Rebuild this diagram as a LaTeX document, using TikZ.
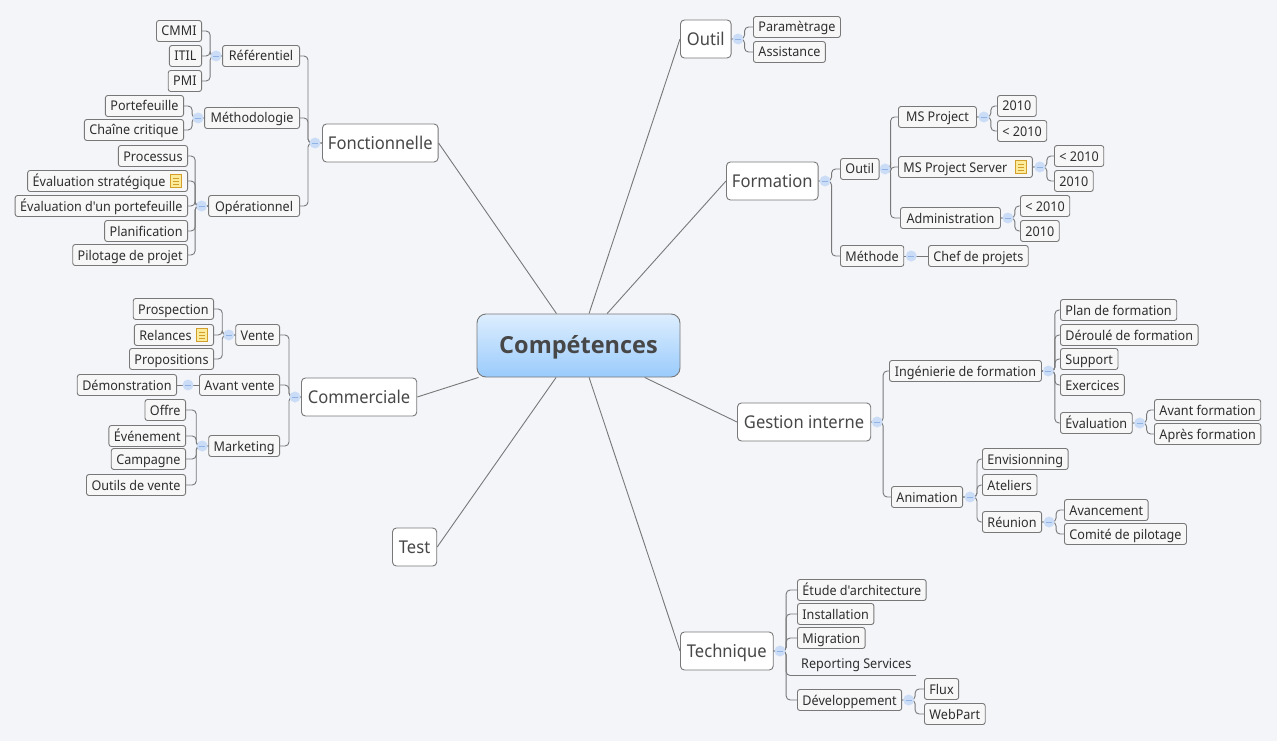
\documentclass[tikz,border=0pt]{standalone}
\usepackage{fontspec}
\defaultfontfeatures[\rmfamily]{}
\setmainfont{Noto Sans}[FakeStretch=0.94]
\newfontfamily\rootfont{Open Sans}
\usetikzlibrary{calc,positioning}
\definecolor{paper}{HTML}{F3F5F9}
\definecolor{edge}{HTML}{787878}
\definecolor{ink}{HTML}{2E2E2E}
\definecolor{foldblue}{HTML}{CBDDF6}
\definecolor{folddash}{HTML}{92B4E4}
\definecolor{memoface}{HTML}{FCEB9A}
\definecolor{memoline}{HTML}{D2A02A}
\definecolor{roottop}{HTML}{DDEEFE}
\definecolor{rootbot}{HTML}{9ACBFC}
\tikzset{
  root/.style={draw=edge,line width=.9pt,rounded corners=9pt,top color=roottop,bottom color=rootbot,text=black!72,font=\rootfont\fontsize{23.5}{28}\selectfont\bfseries,minimum width=203pt,minimum height=63pt,inner sep=0pt,text height=20pt,text depth=4pt},
  main/.style={draw=edge,line width=.9pt,fill=white,rounded corners=4pt,text=black!72,font=\fontsize{17.6}{20}\selectfont,minimum height=38pt,inner xsep=6.5pt,inner ysep=0pt,text height=13pt,text depth=0pt},
  leaf/.style={draw=edge,line width=.9pt,fill=black!3,rounded corners=2.5pt,text=ink,font=\fontsize{13.4}{15}\selectfont,minimum height=21pt,inner xsep=5pt,inner ysep=0pt,text height=10pt,text depth=0pt},
  bare/.style={text=ink,font=\fontsize{13.4}{15}\selectfont,minimum height=21pt,inner xsep=4pt,inner ysep=0pt,text height=10pt,text depth=0pt},
  spoke/.style={draw=edge,line width=.9pt},
  twig/.style={draw=edge,line width=.9pt,rounded corners=4pt},
  fold/.style={circle,fill=foldblue,minimum size=11pt,inner sep=0pt,path picture={\draw[folddash,line width=.8pt] ([xshift=-3pt]path picture bounding box.center) -- ([xshift=3pt]path picture bounding box.center);}},
  memo/.style={draw=memoline,line width=.7pt,fill=memoface,minimum width=11pt,minimum height=13pt,inner sep=0pt,path picture={\foreach \row in {-3,0,3} \draw[memoline,line width=.7pt] ([xshift=-3pt,yshift=\row pt]path picture bounding box.center) -- ([xshift=3pt,yshift=\row pt]path picture bounding box.center);}}
}
\newcommand{\twigsl}[3]{\foreach \kid in {#3} \draw[twig] (#1.west) -- ++(-#2,0) |- (\kid.east);
  \node[fold] (#1fold) at ($(#1.west)+(-#2*0.5,0)$) {};}
\newcommand{\twigsr}[3]{\foreach \kid in {#3} \draw[twig] (#1.east) -- ++(#2,0) |- (\kid.west);
  \node[fold] (#1fold) at ($(#1.east)+(#2*0.5,0)$) {};}
\begin{document}
\begin{tikzpicture}[x=1pt,y=-1pt]
\useasboundingbox[fill=paper] (0,0) rectangle (1277,741);
\node[root] (comp) at (578.5,345.5) {Compétences};
% branches
\node[main,anchor=west,inner xsep=5.5pt] (fonc) at (322,143) {Fonctionnelle};
\node[main,anchor=west] (comm) at (301,397) {Commerciale};
\node[main,anchor=west] (test) at (392,547) {Test};
\node[main,anchor=west] (outil) at (680,39) {Outil};
\node[main,anchor=west,inner xsep=5.5pt] (form) at (726,181) {Formation};
\node[main,anchor=west] (gest) at (737,422) {Gestion interne};
\node[main,anchor=west] (tech) at (680,651) {Technique};
\foreach \side in {fonc,comm,test} \draw[spoke] (comp) -- (\side.east);
\foreach \side in {outil,form,gest,tech} \draw[spoke] (comp) -- (\side.west);
% fonctionnelle
\node[leaf,anchor=east,minimum width=77pt] (refe) at (300,56) {Référentiel};
\node[leaf,anchor=east,minimum width=95pt] (meth) at (300,118) {Méthodologie};
\node[leaf,anchor=east,minimum width=91pt] (oper) at (300,206) {Opérationnel};
\node[leaf,anchor=east] (cmmi) at (202,31) {CMMI};
\node[leaf,anchor=east] (itil) at (202,56) {ITIL};
\node[leaf,anchor=east] (pmi) at (202,81) {PMI};
\node[leaf,anchor=east] (port) at (184,106) {Portefeuille};
\node[leaf,anchor=east] (chai) at (184,130) {Chaîne critique};
\node[leaf,anchor=east] (proc) at (188,156) {Processus};
\node[leaf,anchor=east] (eval) at (188,181) {Évaluation stratégique\kern17pt};
\node[memo,left=6pt of eval.east,anchor=east] (evalmemo) {};
\node[leaf,anchor=east] (evap) at (188,206) {Évaluation d'un portefeuille};
\node[leaf,anchor=east] (plan) at (188,231) {Planification};
\node[leaf,anchor=east] (pilo) at (188,255) {Pilotage de projet};
\twigsl{fonc}{14}{refe,meth,oper}
\twigsl{refe}{12}{cmmi,itil,pmi}
\twigsl{meth}{12}{port,chai}
\twigsl{oper}{13}{proc,eval,evap,plan,pilo}
% commerciale
\node[leaf,anchor=east] (vent) at (280,335) {Vente};
\node[leaf,anchor=east] (avan) at (280,385) {Avant vente};
\node[leaf,anchor=east] (mark) at (280,446) {Marketing};
\node[leaf,anchor=east] (pros) at (214,309) {Prospection};
\node[leaf,anchor=east] (rela) at (214,335) {Relances\kern17pt};
\node[memo,left=6pt of rela.east,anchor=east] (relamemo) {};
\node[leaf,anchor=east] (prop) at (214,359) {Propositions};
\node[leaf,anchor=east] (demo) at (177,385) {Démonstration};
\node[leaf,anchor=east] (offr) at (186,410) {Offre};
\node[leaf,anchor=east] (even) at (186,436) {Événement};
\node[leaf,anchor=east] (camp) at (186,459) {Campagne};
\node[leaf,anchor=east] (outv) at (186,485) {Outils de vente};
\twigsl{comm}{12}{vent,avan,mark}
\twigsl{vent}{13}{pros,rela,prop}
\draw[twig] (avan.west) -- (demo.east);
\node[fold] (avanfold) at ($(avan.west)+(-11,0)$) {};
\twigsl{mark}{12}{offr,even,camp,outv}
% outil
\node[leaf,anchor=west] (para) at (753,27) {Paramètrage};
\node[leaf,anchor=west] (assi) at (753,52) {Assistance};
\twigsr{outil}{13}{para,assi}
% formation
\node[leaf,anchor=west] (outb) at (840,169) {Outil};
\node[leaf,anchor=west] (meto) at (840,256) {Méthode};
\node[leaf,anchor=west,minimum width=78pt] (msp) at (898,117) {MS Project};
\node[leaf,anchor=west] (msps) at (898,167) {MS Project Server\kern20pt};
\node[memo,left=6pt of msps.east,anchor=east] (mspsmemo) {};
\node[leaf,anchor=west,minimum width=100pt] (admi) at (900,218) {Administration};
\node[leaf,anchor=west] (mspa) at (997,106) {2010};
\node[leaf,anchor=west] (mspb) at (997,131) {< 2010};
\node[leaf,anchor=west] (mspsa) at (1054,156) {< 2010};
\node[leaf,anchor=west] (mspsb) at (1054,181) {2010};
\node[leaf,anchor=west] (admia) at (1020,206) {< 2010};
\node[leaf,anchor=west] (admib) at (1020,231) {2010};
\node[leaf,anchor=west] (chef) at (928,256) {Chef de projets};
\twigsr{form}{13}{outb,meto}
\twigsr{outb}{11}{msp,msps,admi}
\twigsr{msp}{14}{mspa,mspb}
\twigsr{msps}{14}{mspsa,mspsb}
\twigsr{admi}{14}{admia,admib}
\draw[twig] (meto.east) -- (chef.west);
\node[fold] (metofold) at ($(meto.east)+(7,0)$) {};
% gestion interne
\node[leaf,anchor=west,minimum width=152pt] (inge) at (889,371) {Ingénierie de formation};
\node[leaf,anchor=west] (anim) at (891,497) {Animation};
\node[leaf,anchor=west] (plaf) at (1060,310) {Plan de formation};
\node[leaf,anchor=west] (dero) at (1060,335) {Déroulé de formation};
\node[leaf,anchor=west] (supp) at (1060,359) {Support};
\node[leaf,anchor=west] (exer) at (1060,385) {Exercices};
\node[leaf,anchor=west] (eva) at (1060,423) {Évaluation};
\node[leaf,anchor=west] (avaf) at (1154,410) {Avant formation};
\node[leaf,anchor=west] (apre) at (1154,434) {Après formation};
\node[leaf,anchor=west] (envi) at (982,459) {Envisionning};
\node[leaf,anchor=west] (atel) at (982,485) {Ateliers};
\node[leaf,anchor=west] (reun) at (982,522) {Réunion};
\node[leaf,anchor=west] (avce) at (1064,510) {Avancement};
\node[leaf,anchor=west] (comi) at (1064,534) {Comité de pilotage};
\twigsr{gest}{12}{inge,anim}
\twigsr{inge}{13}{plaf,dero,supp,exer,eva}
\twigsr{eva}{14}{avaf,apre}
\twigsr{anim}{14}{envi,atel,reun}
\twigsr{reun}{14}{avce,comi}
% technique
\node[leaf,anchor=west] (etud) at (797,590) {Étude d'architecture};
\node[leaf,anchor=west] (inst) at (797,614) {Installation};
\node[leaf,anchor=west] (migr) at (797,638) {Migration};
\node[bare,anchor=west] (repo) at (797,663) {Reporting Services};
\coordinate (repoend) at (916,675.5);
\node[leaf,anchor=west] (deve) at (797,700) {Développement};
\node[leaf,anchor=west] (flux) at (924,689) {Flux};
\node[leaf,anchor=west] (webp) at (924,714) {WebPart};
\draw[twig] (tech.east) -- ++(12.5,0) |- (repoend);
\twigsr{tech}{12.5}{etud,inst,migr,deve}
\twigsr{deve}{13}{flux,webp}
\end{tikzpicture}
\end{document}
